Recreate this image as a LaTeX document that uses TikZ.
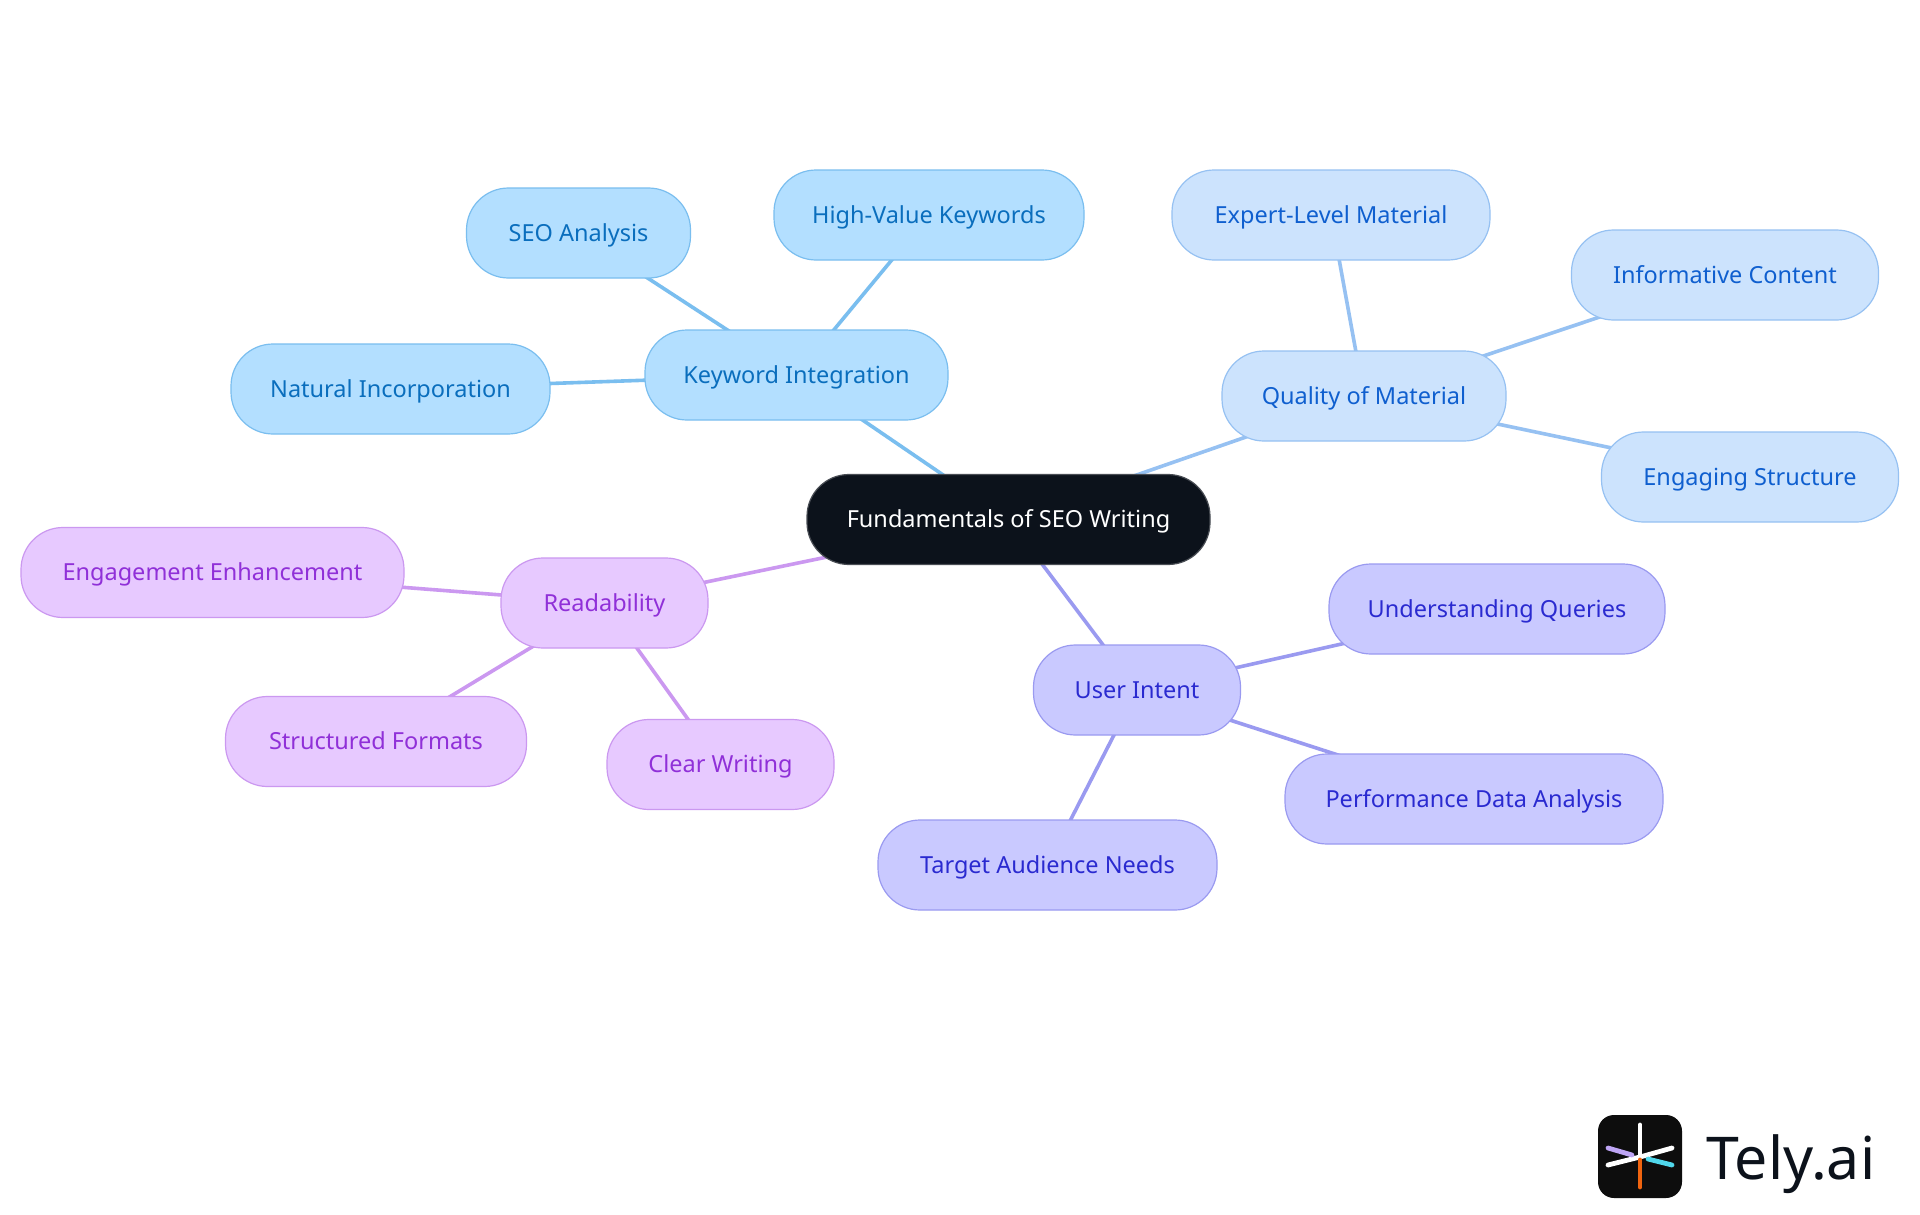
\documentclass[tikz,border=0pt]{standalone}
\usepackage{fontspec}
\setmainfont{Noto Sans}
\usetikzlibrary{backgrounds}
\definecolor{kwf}{HTML}{B3DFFF}\definecolor{kws}{HTML}{7ABEEF}\definecolor{kwt}{HTML}{0A6EBD}
\definecolor{qmf}{HTML}{CCE3FD}\definecolor{qms}{HTML}{96C1F2}\definecolor{qmt}{HTML}{0F5FCF}
\definecolor{uif}{HTML}{C9C9FF}\definecolor{uis}{HTML}{9A9AF0}\definecolor{uit}{HTML}{2A2AD0}
\definecolor{rdf}{HTML}{E7C9FF}\definecolor{rds}{HTML}{CB98F0}\definecolor{rdt}{HTML}{9030D8}
\definecolor{rootc}{HTML}{0C121B}
\tikzset{
  x=1pt,y=-1pt,
  mm/.style={rounded corners=42pt,minimum height=90pt,inner sep=0pt,line width=1.2pt,align=center,text height=18pt,text depth=2pt,font=\fontsize{23.5}{28}\selectfont},
  rootn/.style={mm,fill=rootc,draw=rootc!75!white,text=white},
  kw/.style={mm,fill=kwf,draw=kws,text=kwt},
  qm/.style={mm,fill=qmf,draw=qms,text=qmt},
  ui/.style={mm,fill=uif,draw=uis,text=uit},
  rd/.style={mm,fill=rdf,draw=rds,text=rdt},
  lk/.style={line width=3.6pt},
  spoke/.style={line width=4.8pt,line cap=round},
}
\begin{document}
\begin{tikzpicture}
\useasboundingbox (0,0) rectangle (1920,1215);
\node[rootn,minimum width=403pt] (root) at (1008.5,519.5) {Fundamentals of SEO Writing};
\node[kw,minimum width=303pt] (k) at (796.5,375) {Keyword Integration};
\node[kw,minimum width=224pt] (k1) at (578.5,233) {SEO Analysis};
\node[kw,minimum width=310pt] (k2) at (929,215) {High-Value Keywords};
\node[kw,minimum width=319pt] (k3) at (390.5,389) {Natural Incorporation};
\node[qm,minimum width=284pt] (q) at (1364,396) {Quality of Material};
\node[qm,minimum width=318pt] (q1) at (1331,215) {Expert-Level Material};
\node[qm,minimum width=307pt] (q2) at (1725,275) {Informative Content};
\node[qm,minimum width=297pt] (q3) at (1750,477) {Engaging Structure};
\node[ui,minimum width=207pt] (u) at (1137,690) {User Intent};
\node[ui,minimum width=336pt] (u1) at (1497,609) {Understanding Queries};
\node[ui,minimum width=378pt] (u2) at (1474,799) {Performance Data Analysis};
\node[ui,minimum width=339pt] (u3) at (1047.5,865) {Target Audience Needs};
\node[rd,minimum width=207pt] (r) at (604.5,603) {Readability};
\node[rd,minimum width=383pt] (r1) at (212.5,572.5) {Engagement Enhancement};
\node[rd,minimum width=301pt] (r2) at (376,741.5) {Structured Formats};
\node[rd,minimum width=227pt] (r3) at (720.5,764.5) {Clear Writing};
\begin{pgfonlayer}{background}
\fill[white] (0,0) rectangle (1920,1215);
\foreach \a/\b in {root/k,k/k1,k/k2,k/k3}{\draw[lk,draw=kws] (\a.center) -- (\b.center);}
\foreach \a/\b in {root/q,q/q1,q/q2,q/q3}{\draw[lk,draw=qms] (\a.center) -- (\b.center);}
\foreach \a/\b in {root/u,u/u1,u/u2,u/u3}{\draw[lk,draw=uis] (\a.center) -- (\b.center);}
\foreach \a/\b in {root/r,r/r1,r/r2,r/r3}{\draw[lk,draw=rds] (\a.center) -- (\b.center);}
\end{pgfonlayer}
% logo
\fill[black!95!white,rounded corners=16pt] (1598,1115) rectangle (1682,1198);
\draw[spoke,white] (1640,1157) -- (1640,1125);
\draw[spoke,white] (1640,1157) -- (1608,1165);
\draw[spoke,white] (1640,1157) -- (1672,1148);
\draw[spoke,color={rgb,255:red,190;green,165;blue,245}] (1632,1155) -- (1608,1148);
\draw[spoke,color={rgb,255:red,80;green,215;blue,235}] (1648,1159) -- (1672,1165);
\draw[spoke,color={rgb,255:red,240;green,100;blue,15}] (1640,1160) -- (1640,1187);
\node[anchor=base west,inner sep=0pt,text=rootc,font=\fontsize{59}{59}\selectfont] (logo) at (1706,1179) {Tely.ai};
\end{tikzpicture}
\end{document}
